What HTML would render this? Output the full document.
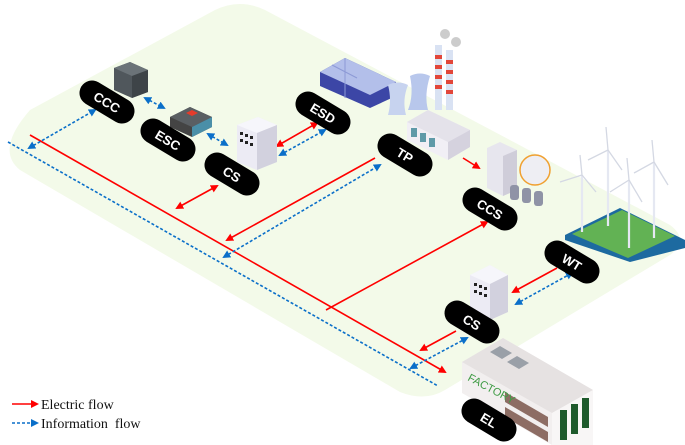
<!DOCTYPE html>
<html><head><meta charset="utf-8"><style>
html,body{margin:0;padding:0;background:#fff;}
svg{display:block;}
.lbl{font-family:"Liberation Sans",sans-serif;font-weight:bold;font-size:13px;fill:#fff;text-anchor:middle;}
</style></head><body>
<svg width="685" height="445" viewBox="0 0 685 445" xmlns="http://www.w3.org/2000/svg">
<defs>
<marker id="r" markerWidth="8" markerHeight="8" refX="6" refY="4" orient="auto-start-reverse" markerUnits="userSpaceOnUse"><path d="M0,0 L8,4 L0,8 Z" fill="#f00"/></marker>
<marker id="b" markerWidth="8" markerHeight="8" refX="6" refY="4" orient="auto-start-reverse" markerUnits="userSpaceOnUse"><path d="M0,0 L8,4 L0,8 Z" fill="#0a6fc9"/></marker>
<g id="pill"><rect x="-30" y="-12.5" width="60" height="25" rx="12.5" fill="#000"/></g>
</defs>
<path d="M30,110 L215,10 Q240,-2 265,10 L670,225 Q690,240 670,255 L445,390 Q425,402 400,392 L20,170 Q-5,150 30,110 Z" fill="#f3fae9"/>

<g stroke-width="1.6" fill="none">
<line x1="30" y1="135" x2="445" y2="372" stroke="#f00" marker-end="url(#r)"/>
<line x1="8" y1="142" x2="438" y2="386" stroke="#0a6fc9" stroke-dasharray="3,2"/>
<line x1="375" y1="158" x2="227" y2="240" stroke="#f00" marker-end="url(#r)"/>
<line x1="224" y1="257" x2="380" y2="165" stroke="#0a6fc9" stroke-dasharray="3,2" marker-start="url(#b)" marker-end="url(#b)"/>
<line x1="326" y1="310" x2="487" y2="222" stroke="#f00" marker-end="url(#r)"/>
<line x1="177" y1="208" x2="217" y2="186" stroke="#f00" marker-start="url(#r)" marker-end="url(#r)"/>
<line x1="29" y1="148" x2="95" y2="110" stroke="#0a6fc9" stroke-dasharray="3,2" marker-start="url(#b)" marker-end="url(#b)"/>
<line x1="145" y1="98" x2="164" y2="108" stroke="#0a6fc9" stroke-dasharray="3,2" marker-start="url(#b)" marker-end="url(#b)"/>
<line x1="208" y1="134" x2="227" y2="145" stroke="#0a6fc9" stroke-dasharray="3,2" marker-start="url(#b)" marker-end="url(#b)"/>
<line x1="277" y1="146" x2="317" y2="123" stroke="#f00" marker-start="url(#r)" marker-end="url(#r)"/>
<line x1="280" y1="155" x2="325" y2="130" stroke="#0a6fc9" stroke-dasharray="3,2" marker-start="url(#b)" marker-end="url(#b)"/>
<line x1="463" y1="158" x2="479" y2="168" stroke="#f00" marker-end="url(#r)"/>
<line x1="557" y1="268" x2="513" y2="292" stroke="#f00" marker-end="url(#r)"/>
<line x1="516" y1="304" x2="572" y2="273" stroke="#0a6fc9" stroke-dasharray="3,2" marker-start="url(#b)" marker-end="url(#b)"/>
<line x1="456" y1="331" x2="421" y2="350" stroke="#f00" marker-end="url(#r)"/>
<line x1="411" y1="368" x2="467" y2="338" stroke="#0a6fc9" stroke-dasharray="3,2" marker-start="url(#b)" marker-end="url(#b)"/>
</g>

<!-- CCC device -->
<polygon points="114,68 130,62 148,70 148,92 132,98 114,90" fill="#50575c"/>
<polygon points="114,68 130,62 148,70 132,76" fill="#6b7378"/>
<polygon points="132,76 148,70 148,92 132,98" fill="#3e4448"/>
<!-- ESC device -->
<polygon points="170,117 190,107 212,117 212,127 192,137 170,127" fill="#444"/>
<polygon points="170,117 190,107 212,117 192,127" fill="#5a5f63"/>
<polygon points="192,127 212,117 212,127 192,137" fill="#4a8fa8"/>
<polygon points="186,113 192,110 198,113 192,116" fill="#e53b2b"/>
<!-- CS building -->
<polygon points="237,125 258,117 277,125 277,162 257,170 237,162" fill="#ecebf4"/>
<polygon points="237,125 258,117 277,125 257,133" fill="#f6f6fb"/>
<polygon points="257,133 277,125 277,162 257,170" fill="#d2d1de"/>
<g fill="#222"><rect x="240" y="132" width="3" height="3"/><rect x="245" y="134" width="3" height="3"/><rect x="250" y="136" width="3" height="3"/><rect x="240" y="139" width="3" height="3"/><rect x="245" y="141" width="3" height="3"/><rect x="250" y="143" width="3" height="3"/></g>
<!-- ESD -->
<polygon points="320,72 345,58 396,82 396,96 370,108 320,86" fill="#3c46a6"/>
<polygon points="320,72 345,58 396,82 370,95" fill="#b3bfea"/>
<polygon points="332,65 357,78" stroke="#8d9ad6" fill="none"/>
<line x1="345" y1="58" x2="345" y2="98" stroke="#8d9ad6"/>
<!-- cooling towers & stacks -->
<path d="M388,85 Q398,80 408,85 Q402,100 406,115 L388,115 Q392,100 388,85 Z" fill="#c7d3ef"/>
<path d="M410,76 Q420,71 430,76 Q424,95 428,110 L408,110 Q414,95 410,76 Z" fill="#b8c7ec"/>
<rect x="435" y="45" width="7" height="65" fill="#d9e2f3"/>
<rect x="446" y="50" width="7" height="60" fill="#d9e2f3"/>
<g fill="#e2463a"><rect x="435" y="55" width="7" height="4"/><rect x="435" y="65" width="7" height="4"/><rect x="435" y="75" width="7" height="4"/><rect x="435" y="85" width="7" height="4"/><rect x="446" y="60" width="7" height="4"/><rect x="446" y="70" width="7" height="4"/><rect x="446" y="80" width="7" height="4"/><rect x="446" y="90" width="7" height="4"/></g>
<circle cx="445" cy="34" r="5" fill="#ccc"/><circle cx="456" cy="42" r="5" fill="#ccc"/>
<!-- TP building -->
<polygon points="407,122 428,110 470,130 470,147 448,160 407,140" fill="#f1eff5"/>
<polygon points="407,122 428,110 470,130 448,142" fill="#e4e2ea"/>
<polygon points="448,142 470,130 470,147 448,160" fill="#d5d2de"/>
<g fill="#5f9aa8"><rect x="411" y="128" width="6" height="9"/><rect x="420" y="133" width="6" height="9"/><rect x="429" y="138" width="6" height="9"/></g>
<!-- CCS -->
<polygon points="487,148 500,142 517,150 517,190 503,196 487,188" fill="#e7e6ee"/>
<polygon points="503,156 517,150 517,190 503,196" fill="#cfcdd9"/>
<circle cx="535" cy="170" r="15" fill="#eeeef3" stroke="#f0a030" stroke-width="1.5"/>
<g fill="#8f93a6"><rect x="510" y="185" width="9" height="15" rx="3"/><rect x="522" y="188" width="9" height="15" rx="3"/><rect x="534" y="191" width="9" height="15" rx="3"/></g>
<!-- wind farm island -->
<polygon points="565,235 620,208 685,240 685,248 630,262 565,240" fill="#1d6aa0"/>
<polygon points="572,234 622,210 675,236 628,258" fill="#62b254"/>
<g stroke="#e5e8f2" stroke-width="2.2">
<line x1="582" y1="175" x2="582" y2="232"/><line x1="608" y1="150" x2="608" y2="226"/><line x1="629" y1="180" x2="629" y2="248"/><line x1="654" y1="162" x2="654" y2="238"/>
</g>
<g stroke="#d4d8e3" stroke-width="1.3">
<line x1="582" y1="175" x2="560" y2="182"/><line x1="582" y1="175" x2="596" y2="192"/><line x1="582" y1="175" x2="580" y2="155"/>
<line x1="608" y1="150" x2="588" y2="160"/><line x1="608" y1="150" x2="622" y2="170"/><line x1="608" y1="150" x2="606" y2="127"/>
<line x1="629" y1="180" x2="610" y2="192"/><line x1="629" y1="180" x2="642" y2="202"/><line x1="629" y1="180" x2="627" y2="158"/>
<line x1="654" y1="162" x2="634" y2="173"/><line x1="654" y1="162" x2="668" y2="185"/><line x1="654" y1="162" x2="652" y2="140"/>
</g>
<!-- CS2 building -->
<polygon points="470,275 490,265 508,275 508,312 490,320 470,312" fill="#ecebf4"/>
<polygon points="470,275 490,265 508,275 490,284" fill="#f6f6fb"/>
<polygon points="490,284 508,275 508,312 490,320" fill="#d2d1de"/>
<g fill="#222"><rect x="474" y="283" width="3" height="3"/><rect x="479" y="285" width="3" height="3"/><rect x="484" y="287" width="3" height="3"/><rect x="474" y="290" width="3" height="3"/><rect x="479" y="292" width="3" height="3"/><rect x="484" y="294" width="3" height="3"/></g>
<!-- factory -->
<polygon points="462,362 503,338 593,390 593,432 552,445 462,393" fill="#f2efef"/>
<polygon points="462,362 503,338 593,390 552,413" fill="#e6e2e2"/>
<polygon points="552,413 593,390 593,445 552,445" fill="#f8f6f6"/>
<polygon points="490,352 500,346 512,353 502,359" fill="#9aa0a8"/>
<polygon points="507,362 517,356 529,363 519,369" fill="#9aa0a8"/>
<g fill="#1e5a2c"><rect x="560" y="410" width="7" height="30"/><rect x="571" y="404" width="7" height="30"/><rect x="582" y="398" width="7" height="30"/></g>
<polygon points="505,392 548,417 548,427 505,402" fill="#8d6d64"/>
<polygon points="505,407 548,432 548,442 505,417" fill="#8d6d64"/>
<text x="467" y="380" font-family="Liberation Sans,sans-serif" font-size="11" fill="#3f9b45" transform="rotate(28 467 380)">FACTORY</text>

<!-- labels -->
<g transform="translate(107,102) rotate(31)"><use href="#pill"/><text class="lbl" y="5">CCC</text></g>
<g transform="translate(168,140) rotate(31)"><use href="#pill"/><text class="lbl" y="5">ESC</text></g>
<g transform="translate(232,174) rotate(31)"><use href="#pill"/><text class="lbl" y="5">CS</text></g>
<g transform="translate(323,113) rotate(31)"><use href="#pill"/><text class="lbl" y="5">ESD</text></g>
<g transform="translate(405,155) rotate(31)"><use href="#pill"/><text class="lbl" y="5">TP</text></g>
<g transform="translate(490,209) rotate(31)"><use href="#pill"/><text class="lbl" y="5">CCS</text></g>
<g transform="translate(572,262) rotate(31)"><use href="#pill"/><text class="lbl" y="5">WT</text></g>
<g transform="translate(472,322) rotate(31)"><use href="#pill"/><text class="lbl" y="5">CS</text></g>
<g transform="translate(489,420) rotate(31)"><use href="#pill"/><text class="lbl" y="5">EL</text></g>

<!-- legend -->
<line x1="12" y1="404" x2="37" y2="404" stroke="#f00" stroke-width="1.6" marker-end="url(#r)"/>
<line x1="12" y1="423" x2="37" y2="423" stroke="#0a6fc9" stroke-width="1.6" stroke-dasharray="3,2" marker-end="url(#b)"/>
<text x="41" y="409" font-family="Liberation Serif,serif" font-size="14" fill="#111">Electric flow</text>
<text x="41" y="428" font-family="Liberation Serif,serif" font-size="14" fill="#111" xml:space="preserve">Information  flow</text>
</svg>
</body></html>
